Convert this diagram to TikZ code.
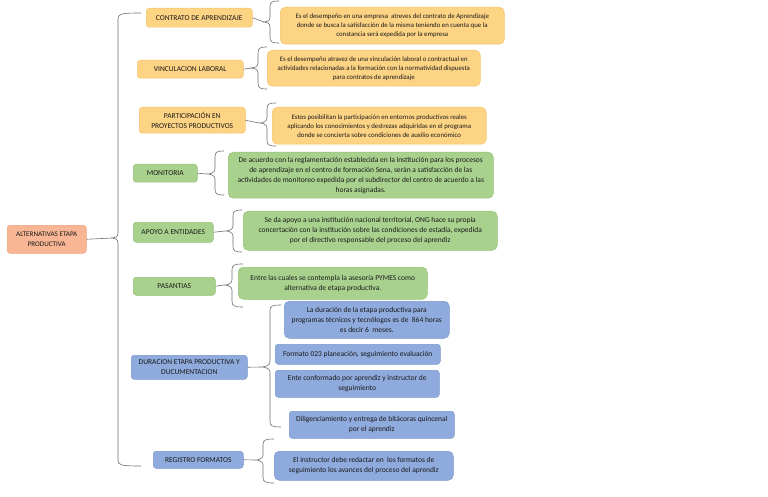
\documentclass[tikz,border=0pt]{standalone}
\usepackage{fontspec}
\setmainfont{Carlito}
\definecolor{orfill}{HTML}{FDD384}
\definecolor{ordraw}{HTML}{F5C46E}
\definecolor{grfill}{HTML}{A9D18E}
\definecolor{grdraw}{HTML}{93C274}
\definecolor{blfill}{HTML}{8FAADC}
\definecolor{bldraw}{HTML}{7A96CC}
\definecolor{safill}{HTML}{F8B694}
\definecolor{sadraw}{HTML}{F2A27C}
\definecolor{lncol}{HTML}{707070}
\definecolor{txcol}{HTML}{1A1A1A}
\tikzset{
  base/.style={rounded corners=3pt, line width=0.5pt, font=\fontsize{7.5}{10}\selectfont, text=txcol, align=center, inner sep=0pt, anchor=north west},
  small/.style={font=\fontsize{6.8}{9}\selectfont},
  orbox/.style={base, fill=orfill, draw=ordraw},
  grbox/.style={base, fill=grfill, draw=grdraw},
  blbox/.style={base, fill=blfill, draw=bldraw},
  sabox/.style={base, fill=safill, draw=sadraw, font=\fontsize{7.1}{10}\selectfont},
  brc/.style={draw=lncol, line width=0.6pt},
  sz/.style 2 args={minimum width=#1pt, minimum height=#2pt}
}
\newcommand{\mmbrace}[6]{\draw[brc] (#1+#6,#2) .. controls (#1+2,#2) and (#1,#2+1) .. (#1,#2+6) -- (#1,#4-5) .. controls (#1,#4-1) and (#5+3,#4) .. (#5,#4) .. controls (#5+3,#4) and (#1,#4+1) .. (#1,#4+5) -- (#1,#3-6) .. controls (#1,#3-1) and (#1+2,#3) .. (#1+#6,#3);}
\begin{document}
\begin{tikzpicture}[x=1pt,y=-1pt]
\useasboundingbox (0,0) rectangle (768,497);
\fill[white] (0,0) rectangle (768,497);

% root
\node[sabox, sz={79}{28}] (alt) at (7,225) {ALTERNATIVAS ETAPA\\PRODUCTIVA};

% categories
\node[orbox, sz={106}{19}] (c1) at (146,8) {CONTRATO DE APRENDIZAJE};
\node[orbox, sz={106}{18}] (c2) at (137,60) {VINCULACION LABORAL};
\node[orbox, sz={106}{26}] (c3) at (139,107) {PARTICIPACIÓN EN\\PROYECTOS PRODUCTIVOS};
\node[grbox, sz={64}{18}] (c4) at (133,164) {MONITORIA};
\node[grbox, sz={80}{20}] (c5) at (133,222) {APOYO A ENTIDADES};
\node[grbox, sz={82}{18}] (c6) at (133,277) {PASANTIAS};
\node[blbox, sz={116}{24}] (c7) at (131,355) {DURACION ETAPA PRODUCTIVA Y\\DUCUMENTACION};
\node[blbox, sz={90}{17}] (c8) at (153,451) {REGISTRO FORMATOS};

% descriptions
\node[orbox, small, rounded corners=5pt, sz={224}{37}] (d1) at (280,7) {Es el desempeño en una empresa\ \ atreves del contrato de Aprendizaje\\donde se busca la satisfacción de la misma teniendo en cuenta que la\\constancia será expedida por la empresa};
\node[orbox, small, rounded corners=5pt, sz={213}{36}] (d2) at (267,50) {Es el desempeño atravez de una vinculación laboral o contractual en\\actividades relacionadas a la formación con la normatividad dispuesta\\para contratos de aprendizaje};
\node[orbox, small, rounded corners=5pt, sz={214}{37}] (d3) at (272,107) {Estos posibilitan la participación en entornos productivos reales\\aplicando los conocimientos y destrezas adquiridas en el programa\\donde se concierta sobre condiciones de auxilio económico};
\node[grbox, rounded corners=5pt, sz={265}{46}] (d4) at (228,152) {De acuerdo con la reglamentación establecida en la institución para los procesos\\de aprendizaje en el centro de formación Sena, serán a satisfacción de las\\actividades de monitoreo expedida por el subdirector del centro de acuerdo a las\\horas asignadas.};
\node[grbox, rounded corners=5pt, sz={254}{39}] (d5) at (243,211) {Se da apoyo a una institución nacional territorial, ONG hace su propia\\concertación con la institución sobre las condiciones de estadía, expedida\\por el directivo responsable del proceso del aprendiz};
\node[grbox, rounded corners=5pt, sz={189}{32}] (d6) at (238,267) {Entre las cuales se contempla la asesoría PYMES como\\alternativa de etapa productiva.};
\node[blbox, rounded corners=5pt, sz={165}{37}] (d7a) at (284,301) {La duración de la etapa productiva para\\programas técnicos y tecnólogos es de\ \ 864 horas\\es decir 6\ \ meses.};
\node[blbox, sz={165}{20}] (d7b) at (275,344) {Formato 023 planeación, seguimiento evaluación};
\node[blbox, sz={164}{27}] (d7c) at (275,370) {Ente conformado por aprendiz y instructor de\\seguimiento};
\node[blbox, sz={165}{27}] (d7d) at (289,411) {Diligenciamiento y entrega de bitácoras quincenal\\por el aprendiz};
\node[blbox, rounded corners=5pt, sz={179}{29}] (d8) at (274,451) {El instructor debe redactar en\ \ los formatos de\\seguimiento los avances del proceso del aprendiz};

% main brace
\coordinate (t0) at (112,238);
\draw[brc] (alt.east) -- (t0);
\mmbrace{118}{13}{466}{238}{112}{23}

% small braces
\coordinate (t1) at (264,22);
\draw[brc] (c1.east) -- (t1);
\mmbrace{270}{1}{43}{22}{264}{9}

\coordinate (t2) at (251,68);
\draw[brc] (c2.east) -- (t2);
\mmbrace{258}{47}{89}{68}{251}{9}

\coordinate (t3) at (259,123);
\draw[brc] (c3.east) -- (t3);
\mmbrace{267}{103}{146}{123}{259}{9}

\coordinate (t4) at (207,174);
\draw[brc] (c4.east) -- (t4);
\mmbrace{215}{151}{195}{174}{207}{9}

\coordinate (t5) at (225,231);
\draw[brc] (c5.east) -- (t5);
\mmbrace{233}{210}{252}{231}{225}{9}

\coordinate (t6) at (224,285);
\draw[brc] (c6.east) -- (t6);
\mmbrace{232}{264}{307}{285}{224}{11}

\coordinate (t7) at (261,367);
\draw[brc] (c7.east) -- (t7);
\mmbrace{270}{305}{427}{367}{261}{11}

\coordinate (t8) at (255,460);
\draw[brc] (c8.east) -- (t8);
\mmbrace{263}{439}{483}{460}{255}{11}
\end{tikzpicture}
\end{document}
